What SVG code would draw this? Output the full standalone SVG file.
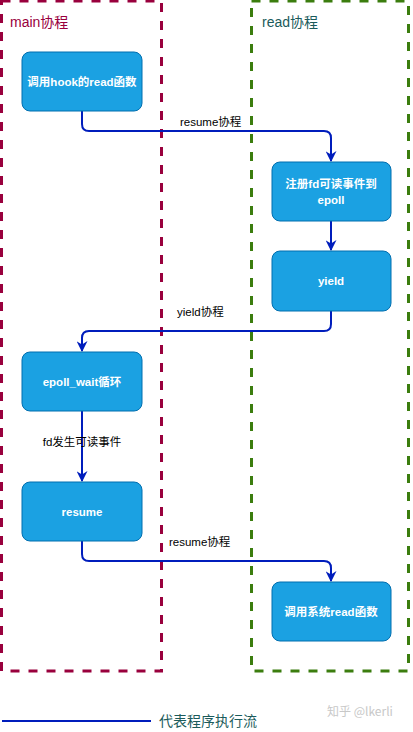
<svg xmlns="http://www.w3.org/2000/svg" width="413" height="732" viewBox="0 0 413 732">
<style>
.lane{fill:none;stroke-width:3;stroke-dasharray:9 9}
.node rect{fill:#1ba1e2;stroke:#006eaf;stroke-width:1}
.node text{fill:#fff;font-family:"Liberation Sans","Noto Sans CJK SC",sans-serif;font-size:11.5px;font-weight:bold;text-anchor:middle}
.edge{fill:none;stroke:#001dbc;stroke-width:2}
.lbl{fill:#000;font-family:"Liberation Sans","Noto Sans CJK SC",sans-serif;font-size:11.5px}
.title{font-family:"Liberation Sans","Noto Sans CJK SC",sans-serif;font-size:14px}
</style>
<defs>
<marker id="arr" viewBox="0 0 10 10" refX="9" refY="5" markerWidth="11" markerHeight="11" orient="auto" markerUnits="userSpaceOnUse">
<path d="M0,0 L10,5 L0,10 L3,5 Z" fill="#001dbc"/>
</marker>
</defs>
<rect width="413" height="732" fill="#fff"/>
<g id="lane-main">
<rect class="lane" x="1.5" y="1" width="160" height="670" stroke="#99003d"/>
<text class="title" x="10" y="27" fill="#99003d">main协程</text>
</g>
<g id="lane-read">
<rect class="lane" x="251.5" y="1" width="157" height="670" stroke="#3b7d0e"/>
<text class="title" x="262" y="27" fill="#1b5b5b">read协程</text>
</g>
<g id="connectors">
<path class="edge" d="M82,111 V124 Q82,131 89,131 H324 Q331,131 331,138 V161" marker-end="url(#arr)"/>
<path class="edge" d="M331,221 V250" marker-end="url(#arr)"/>
<path class="edge" d="M331,311 V324 Q331,331 324,331 H89 Q82,331 82,338 V351" marker-end="url(#arr)"/>
<path class="edge" d="M82,411 V481" marker-end="url(#arr)"/>
<path class="edge" d="M82,541 V554 Q82,561 89,561 H324 Q331,561 331,568 V581" marker-end="url(#arr)"/>
<text class="lbl" x="180" y="126">resume协程</text>
<text class="lbl" x="177" y="316">yield协程</text>
<text class="lbl" x="82" y="446" text-anchor="middle">fd发生可读事件</text>
<text class="lbl" x="169" y="546">resume协程</text>
</g>
<g id="n1" class="node"><rect x="22" y="52" width="120" height="59" rx="8"/><text x="82" y="86">调用hook的read函数</text></g>
<g id="n2" class="node"><rect x="272" y="162" width="119" height="59" rx="8"/><text x="331" y="188">注册fd可读事件到</text><text x="331" y="204">epoll</text></g>
<g id="n3" class="node"><rect x="272" y="251" width="119" height="60" rx="8"/><text x="331" y="285">yield</text></g>
<g id="n4" class="node"><rect x="22" y="352" width="120" height="59" rx="8"/><text x="82" y="386">epoll_wait循环</text></g>
<g id="n5" class="node"><rect x="22" y="482" width="120" height="59" rx="8"/><text x="82" y="516">resume</text></g>
<g id="n6" class="node"><rect x="272" y="582" width="119" height="59" rx="8"/><text x="331" y="616">调用系统read函数</text></g>
<g id="legend">
<line x1="2" y1="721" x2="151" y2="721" stroke="#001dbc" stroke-width="2"/>
<text class="title" x="159" y="726" fill="#1b5b5b">代表程序执行流</text>
</g>
<text x="327" y="716" font-family="'Noto Sans CJK SC',sans-serif" font-size="12" fill="#c8c8c8">知乎 @lkerli</text>
</svg>
